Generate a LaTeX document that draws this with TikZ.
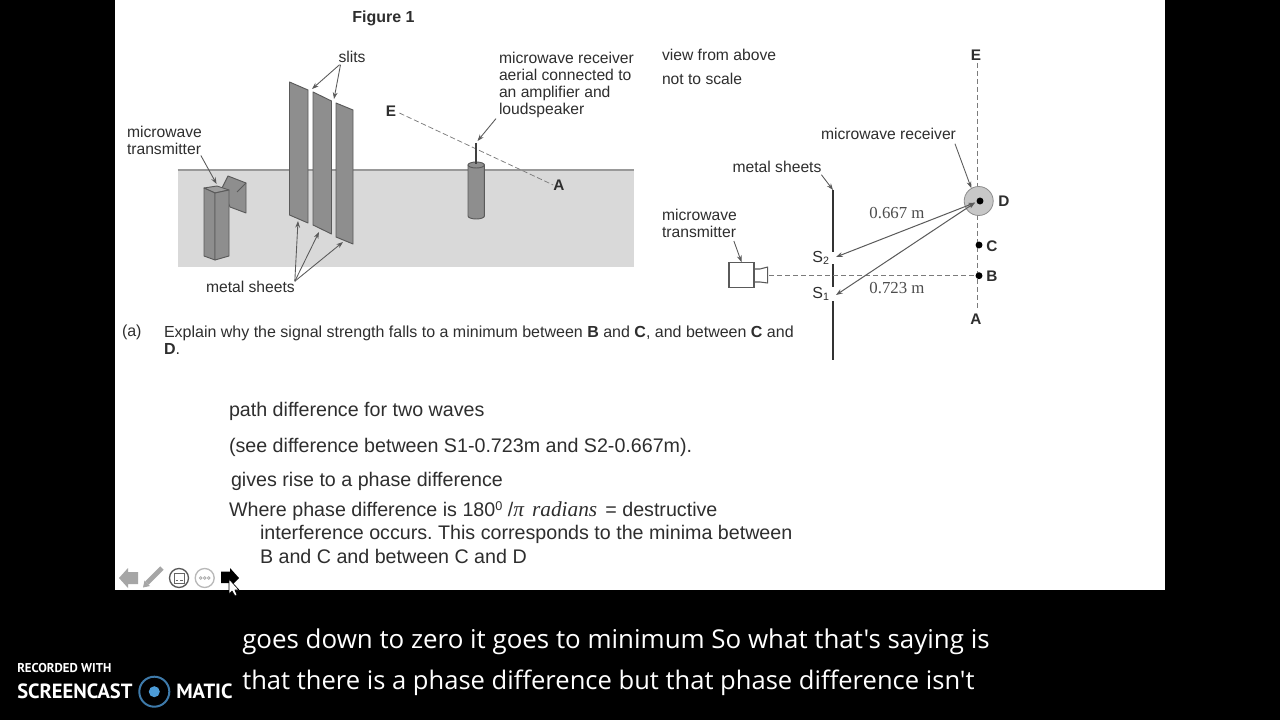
\documentclass[tikz,border=0pt]{standalone}
\usepackage{fontspec}
\setmainfont{Liberation Sans}
\newfontfamily\capfont{Open Sans}
\newfontfamily\logofont{PT Sans}
\newfontfamily\serifface{Liberation Serif}
\usetikzlibrary{arrows.meta}
\newcommand{\fs}[2]{\fontsize{#1}{#2}\selectfont}
\definecolor{ink}{HTML}{2E2E2E}
\definecolor{sheet}{HTML}{8E8E8E}
\definecolor{edge}{HTML}{5A5A5A}
\definecolor{logoring}{HTML}{3E7AAA}
\definecolor{logodot}{HTML}{4C9CD8}
\tikzset{
  x=0.75pt,y=-0.75pt,
  lbl/.style={inner sep=0pt,outer sep=0pt,text=ink,font=\fs{11.75}{12.75},align=left,anchor=west},
  body/.style={inner sep=0pt,outer sep=0pt,text=ink,font=\fs{14.75}{17}\frenchspacing,anchor=west},
  letter/.style={inner sep=0pt,text=ink,font=\bfseries\fs{11.5}{12}},
  measure/.style={inner sep=0pt,text=ink!85,font=\serifface\fs{12.6}{13}},
  caption line/.style={inner sep=0pt,text=white,anchor=west},
  logo/.style={inner sep=0pt,text=white,anchor=west},
  solid3d/.style={fill=sheet,draw=edge,line width=0.7pt,line join=round},
  pointer/.style={draw=edge,line width=0.65pt,-{Stealth[length=5pt,width=3.6pt]}},
  ray/.style={draw=edge,line width=0.75pt,{Stealth[length=5pt,width=3.6pt]}-{Stealth[length=5pt,width=3.6pt]}},
  axis/.style={draw=edge!80,line width=0.55pt,dash pattern=on 4pt off 2pt},
  spot/.style={circle,fill=black,inner sep=0pt,minimum size=5.2pt},
}
\begin{document}
\begin{tikzpicture}
\useasboundingbox (0,0) rectangle (1280,720);
\fill[black] (0,0) rectangle (1280,720);
\fill[white] (115,0) rectangle (1165,590);

% ---- left figure
\node[inner sep=0pt,font=\bfseries\fs{12}{13},text=ink] (fig) at (383.5,18) {Figure 1};
\fill[black!15] (177.6,170) rectangle (634,267);
\draw[black!40,line width=0.8pt] (177.6,170) -- (634,170);

% transmitter
\draw[solid3d] (222,188) -- (228,176) -- (246,183) -- (246,213) -- (230,207) -- cycle;
\draw[edge,line width=0.6pt] (237,192) -- (246,183);
\draw[solid3d,fill=black!38] (204,188) -- (217,186) -- (229,190) -- (215,193) -- cycle;
\draw[solid3d] (204,188) -- (215,193) -- (215,260) -- (204,256) -- cycle;
\draw[solid3d] (215,193) -- (229,190) -- (229,256) -- (215,260) -- cycle;

% sheets
\draw[solid3d] (289.5,82) -- (308,90) -- (308,223) -- (289.5,215) -- cycle;
\draw[solid3d] (313,92) -- (331.5,101) -- (331.5,234) -- (313,225) -- cycle;
\draw[solid3d] (336,103) -- (353,110) -- (353,244) -- (336,237) -- cycle;
\coordinate (slitA) at (312,89);
\coordinate (slitB) at (334,99);
\coordinate (sheetA) at (298,221);
\coordinate (sheetB) at (319,232);
\coordinate (sheetC) at (343,242);

% dashed line with receiver
\node[letter] (Eleft) at (391,111) {E};
\node[letter] (Aleft) at (559,185) {A};
\draw[axis] (Eleft.east)+(3,2) -- (Aleft.west);
\draw[solid3d] (468,165) -- (468,216) arc[start angle=180,end angle=0,x radius=8.2,y radius=3] -- (484.4,165) -- cycle;
\draw[solid3d] (476.2,165) ellipse[x radius=8.2,y radius=3];
\draw[black!75,line width=1.5pt] (476,143) -- (476,164);
\coordinate (aerial) at (477.5,141);

% labels
\node[lbl,anchor=center] (slits) at (352,57) {slits};
\node[lbl,anchor=north west] (rxl) at (499,52) {microwave receiver\\aerial connected to\\an amplifier and\\loudspeaker};
\node[lbl,anchor=north west] (txl) at (127,126) {microwave\\transmitter};
\node[lbl] (msl) at (206,287) {metal sheets};
\draw[pointer] (slits.south west)+(1,2) -- (slitA);
\draw[pointer] (slits.south west)+(2,2) -- (slitB);
\draw[pointer] (rxl.south west)+(-3,1) -- (aerial);
\coordinate (txtop) at (216.6,184);
\draw[pointer] (txl.south east)+(-1,1) -- (txtop);
\draw[pointer] (msl.north east) -- (sheetA);
\draw[pointer] (msl.north east) -- (sheetB);
\draw[pointer] (msl.north east) -- (sheetC);

% ---- right figure
\node[lbl] (vfa) at (662,55) {view from above};
\node[lbl] (nts) at (662,79) {not to scale};
\node[letter] (Eright) at (976,55) {E};
\node[letter] (Aright) at (976,319) {A};
\coordinate (axisTop) at (977,63);
\coordinate (axisEnd) at (977,310);
\draw[axis] (axisTop) -- (axisEnd);
\node[circle,fill=black!22,draw=black!45,line width=0.6pt,minimum size=21.75pt,inner sep=0pt] (disc) at (978.7,201) {};
\node[spot] (dotD) at (980,201) {};
\node[spot] (dotC) at (979,245) {};
\node[spot] (dotB) at (979,275.7) {};
\node[letter] (D) at (1004,201) {D};
\node[letter] (C) at (992,246) {C};
\node[letter] (B) at (992,276) {B};

\node[lbl,anchor=center] (rxr) at (888.5,134) {microwave receiver};
\node[lbl,anchor=center] (msr) at (777,167) {metal sheets};
\node[lbl,anchor=north west] (txr) at (662,209.5) {microwave\\transmitter};
\coordinate (sheetTop) at (833,190);
\draw[pointer] (rxr.south east)+(-1,4) -- (disc.120);
\draw[pointer] (msr.south east)+(0,2) -- (sheetTop);

\draw[black!80,line width=1pt] (sheetTop) -- (833,252);
\draw[black!80,line width=1pt] (833,264) -- (833,287);
\draw[black!80,line width=1pt] (833,301) -- (833,360);

% camera
\node[draw=edge,line width=0.8pt,minimum size=18.75pt,inner sep=0pt,fill=white] (cam) at (741.5,275.2) {};
\draw[edge,line width=0.8pt,line join=round] (754,269) -- (760,269) -- (767.7,267) -- (767.7,283) -- (760,282) -- (754,282);
\coordinate (horn) at (769,275.7);
\draw[axis] (horn) -- (dotB);
\draw[pointer] (txr.south east)+(-3,3) -- (cam.north);

\node[inner sep=0pt,font=\fs{12}{13},text=ink] (S2) at (821,258) {S\textsubscript{2}};
\node[inner sep=0pt,font=\fs{12}{13},text=ink] (S1) at (821,294) {S\textsubscript{1}};
\coordinate (slit2) at (836,257);
\coordinate (slit1) at (836,295);
\coordinate (rayend) at (975,202.7);
\draw[ray] (slit2) -- (rayend);
\draw[ray] (slit1) -- (rayend);
\node[measure] (d2) at (897,213) {0.667 m};
\node[measure] (d1) at (897,288) {0.723 m};

% ---- question
\node[lbl,font=\fs{12}{12.75}] (qa) at (122,332.5) {(a)};
\node[lbl,font=\fs{12}{12.75},anchor=north west] (qt) at (164,326) {Explain why the signal strength falls to a minimum between \textbf{B} and \textbf{C}, and between \textbf{C} and\\\textbf{D}.};

% ---- answer
\node[body] (l1) at (229,411) {path difference for two waves};
\node[body] (l2) at (229,447) {(see difference between S1-0.723m and S2-0.667m).};
\node[body] (l3) at (231,481) {gives rise to a phase difference};
\node[body] (l4) at (229,511) {Where phase difference is 180{\fs{9.5}{10}\raisebox{4.5pt}{0}} /{\serifface\itshape\fs{16}{17}π\hspace{6pt}radians}\hspace{2pt} = destructive};
\node[body] (l5) at (260,534) {interference occurs. This corresponds to the minima between};
\node[body] (l6) at (260,556.5) {B and C and between C and D};

% ---- toolbar
\fill[black!35] (119,578) -- (128,568) -- (128,572) -- (138,572) -- (138,584) -- (128,584) -- (128,588) -- cycle;
\draw[black!35,line width=3.6pt] (147,583) -- (162,568);
\fill[black!35] (143,587.5) -- (144.5,580.5) -- (150,586) -- cycle;
\draw[black!65,line width=1pt] (179,578) circle[radius=9.5];
\draw[black!60,line width=0.6pt] (174,573) rectangle (184,583);
\draw[black!60,line width=1pt] (175.5,580.5) -- (178,580.5) (180,580.5) -- (182.5,580.5);
\draw[black!28,line width=1pt] (204.7,578) circle[radius=9.5];
\foreach \dx in {-4,0,4} \draw[black!35,line width=0.5pt] (204.7+\dx,578) circle[radius=1.4];
\fill[black] (221,571.5) -- (230,571.5) -- (230,568) -- (239,578) -- (230,587) -- (230,583) -- (221,583) -- cycle;
\draw[black,fill=white,line width=0.5pt,line join=round] (229,579) -- (229,594) -- (232,591) -- (235,596) -- (237,595) -- (235,590) -- (239,590) -- cycle;

% ---- captions
\node[caption line,font=\capfont\fs{19.43}{22}] (cap1) at (242,642) {goes down to zero it goes to minimum So what that's saying is};
\node[caption line,font=\capfont\fs{19.17}{22}] (cap2) at (242,683) {that there is a phase difference but that phase difference isn't};

% ---- logo
\node[logo,font=\logofont\bfseries\fs{9.6}{10}] (rec) at (17,668) {RECORDED WITH};
\node[logo,font=\logofont\bfseries\fs{15.4}{16}] (scr) at (17,691.5) {SCREENCAST};
\node[logo,font=\logofont\bfseries\fs{15.4}{16}] (mat) at (176,691.5) {MATIC};
\draw[logoring,line width=1.5pt] (154.3,691.7) circle[radius=15];
\fill[logodot] (154.3,691.7) circle[radius=5.5];
\end{tikzpicture}
\end{document}
